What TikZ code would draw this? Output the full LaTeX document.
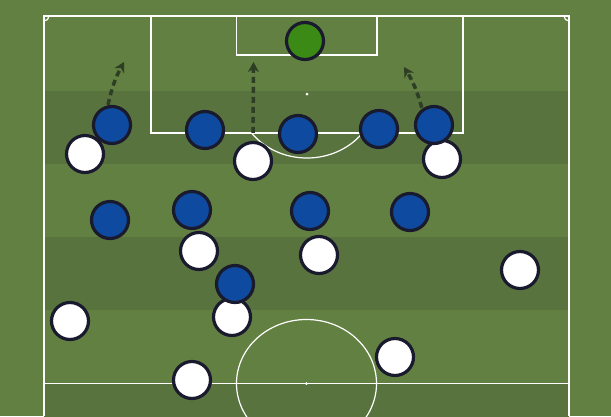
\documentclass[tikz,border=0pt]{standalone}
\usepackage{tikz}
\usetikzlibrary{shadows, arrows.meta, positioning, calc}
\definecolor{grass}{RGB}{98,128,65}
\definecolor{darkgrass}{RGB}{88,115,62}
\definecolor{shirt}{RGB}{14,75,160}
\definecolor{keeper}{RGB}{60,138,22}
\definecolor{rim}{RGB}{26,26,46}
\definecolor{runcol}{RGB}{46,62,36}

\begin{document}
\begin{tikzpicture}[x=1pt, y=-1pt,
  line/.style={white, line width=1.2pt},
  player/.style={circle, draw=rim, line width=3.2pt, minimum size=37pt, inner sep=0pt,
    drop shadow={shadow xshift=0.5pt, shadow yshift=-1.5pt, opacity=0.3}},
  blueman/.style={player, fill=shirt},
  whiteman/.style={player, fill=white},
  goalie/.style={player, fill=keeper},
  run/.style={runcol, line width=3.5pt, dash pattern=on 6pt off 4pt, -{Stealth[length=10pt, width=11pt]}}]
\useasboundingbox (0,0) rectangle (611,416);
\clip (0,0) rectangle (611,416);
\fill[grass] (0,0) rectangle (611,416);
% stripes
\foreach \y in {91,237,383} {
  \fill[darkgrass] (44,\y) rectangle (569,\y+73);
}
% pitch lines
\draw[line] (44,416) -- (44,16) -- (569,16) -- (569,416);
\draw[line] (44,383.5) -- (569,383.5);
\draw[line] (151,16) rectangle (463,133);
\draw[line] (236.5,16) rectangle (377,55);
\draw[line] (49,16) arc[start angle=0, end angle=90, radius=5];
\draw[line] (564,16) arc[start angle=180, end angle=90, radius=5];
\draw[line] (306.5,383.5) ellipse[x radius=70, y radius=64];
\begin{scope}
\clip (0,133) rectangle (611,200);
\draw[line] (307,94) ellipse[x radius=70, y radius=64];
\end{scope}
\fill[white] (307,94) circle (1.5);
\fill[white] (306.5,383.5) circle (1.5);
% players
\node[goalie] (gk) at (305,41) {};
\node[blueman] (b1) at (112,125) {};
\foreach \n/\x/\y in {w1/85/154, w2/253/161, w3/442/159, w4/199/251, w5/319/255,
    w6/520/270, w7/70/321, w8/232/317, w9/395/357, w10/192/380} {
  \node[whiteman] (\n) at (\x,\y) {};
}
\foreach \n/\x/\y in {b2/205/130, b3/298/134, b4/379/129, b5/434/125,
    b6/110/220, b7/192/210, b8/310/211, b9/410/212, b10/235/284} {
  \node[blueman] (\n) at (\x,\y) {};
}
% runs
\coordinate (t1) at (124,62);
\coordinate (t2) at (253.5,62);
\coordinate (t3) at (404,67);
\draw[run] ($(b1.north)+(-4,0)$) to[bend left=8] (t1);
\draw[run, shorten <=8pt] (w2.north) -- (t2);
\draw[run] ($(b5.north west)+(2,-3)$) to[bend right=8] (t3);
\end{tikzpicture}
\end{document}
